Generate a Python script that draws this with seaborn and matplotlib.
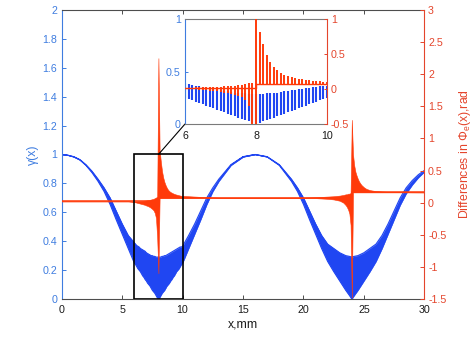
import numpy as np
import pandas as pd
import matplotlib
matplotlib.use("Agg")
import matplotlib.pyplot as plt
import seaborn as sns
from matplotlib.patches import Rectangle, ConnectionPatch
from matplotlib.ticker import FuncFormatter

# ---------------------------------------------------------------------------
# Coherence gamma(x): upper / lower envelope of the fringe band (left axis)
# coarse samples outside the 6-10 mm window
gamma_x = [0, 0.5, 1, 1.5, 2, 2.5, 3, 3.5, 4, 4.5, 5, 5.5,
           10.5, 11, 11.5, 12, 12.5, 13, 14, 15, 16, 17, 18, 19, 19.5, 20,
           20.5, 21, 21.5, 22, 22.5, 23, 23.5, 23.8, 24, 24.2, 24.5, 25,
           25.5, 26, 26.5, 27, 27.5, 28, 28.5, 29, 29.5, 30]
gamma_hi = [1.0, 0.995, 0.985, 0.965, 0.93, 0.885, 0.83, 0.77, 0.70, 0.61, 0.52, 0.44,
            0.44, 0.52, 0.61, 0.70, 0.77, 0.83, 0.93, 0.985, 1.0, 0.985, 0.93, 0.83, 0.77, 0.70,
            0.61, 0.52, 0.44, 0.38, 0.35, 0.32, 0.30, 0.295, 0.29, 0.295, 0.30, 0.32,
            0.35, 0.38, 0.44, 0.52, 0.61, 0.70, 0.77, 0.82, 0.86, 0.89]
gamma_lo = [1.0, 0.995, 0.983, 0.962, 0.925, 0.875, 0.815, 0.745, 0.655, 0.55, 0.45, 0.35,
            0.35, 0.45, 0.55, 0.655, 0.745, 0.815, 0.925, 0.983, 1.0, 0.983, 0.925, 0.815, 0.745, 0.655,
            0.55, 0.45, 0.35, 0.26, 0.19, 0.125, 0.06, 0.025, 0.0, 0.025, 0.06, 0.125,
            0.19, 0.26, 0.35, 0.45, 0.55, 0.65, 0.73, 0.79, 0.84, 0.88]

# fringe-resolved samples in the 6-10 mm window (step 0.1 mm)
zoom_x = np.linspace(6.0, 10.0, 41)
gamma_hi_zoom = [0.39, 0.38, 0.37, 0.365, 0.36, 0.35, 0.345, 0.34, 0.335, 0.33,
                 0.32, 0.315, 0.31, 0.305, 0.30, 0.30, 0.295, 0.295, 0.29, 0.29,
                 0.29,
                 0.29, 0.29, 0.295, 0.295, 0.30, 0.30, 0.305, 0.31, 0.315, 0.32,
                 0.325, 0.33, 0.335, 0.34, 0.345, 0.35, 0.355, 0.36, 0.36, 0.365]
gamma_lo_zoom = [0.25, 0.24, 0.225, 0.21, 0.20, 0.19, 0.175, 0.16, 0.15, 0.135,
                 0.125, 0.11, 0.10, 0.09, 0.075, 0.06, 0.05, 0.04, 0.025, 0.01,
                 0.0,
                 0.01, 0.025, 0.04, 0.05, 0.06, 0.075, 0.09, 0.10, 0.11, 0.125,
                 0.135, 0.15, 0.16, 0.175, 0.19, 0.20, 0.21, 0.225, 0.24, 0.25]

# ---------------------------------------------------------------------------
# Phase difference (right axis, rad)
phase_steps = [0, 8, 24, 30]            # baseline changes at the singularities
phase_offsets = [0.02, 0.075, 0.16]     # baseline level on each segment

phase_x = [0, 5.5,
           10.5, 11, 12, 13, 20, 21, 22, 22.5, 23, 23.3, 23.5, 23.6, 23.7, 23.8, 23.9,
           24.0, 24.1, 24.2, 24.3, 24.4, 24.5, 24.6, 24.7, 24.8, 25.0, 25.2, 25.5, 26,
           27, 28, 30]
phase_hi = [0.02, 0.02,
            0.10, 0.095, 0.085, 0.08, 0.08, 0.085, 0.095, 0.10, 0.11, 0.12, 0.13, 0.13,
            0.14, 0.14, 0.15,
            1.29, 0.75, 0.58, 0.48, 0.42, 0.37, 0.33, 0.30, 0.275, 0.24, 0.215, 0.195, 0.18,
            0.168, 0.163, 0.16]
phase_lo = [0.02, 0.02,
            0.075, 0.075, 0.075, 0.075, 0.075, 0.07, 0.06, 0.05, 0.03, 0.0, -0.04, -0.07,
            -0.11, -0.17, -0.35,
            -1.48, 0.16, 0.16, 0.16, 0.16, 0.16, 0.16, 0.16, 0.16, 0.16, 0.16, 0.16, 0.16,
            0.16, 0.16, 0.16]

phase_hi_zoom = [0.02, 0.02, 0.02, 0.022, 0.022, 0.025, 0.025, 0.028, 0.03, 0.032,
                 0.035, 0.038, 0.04, 0.045, 0.05, 0.055, 0.06, 0.07, 0.08, 0.09,
                 2.25,
                 0.82, 0.64, 0.49, 0.39, 0.32, 0.27, 0.23, 0.20, 0.18, 0.165,
                 0.155, 0.145, 0.137, 0.13, 0.125, 0.12, 0.115, 0.11, 0.107, 0.105]
phase_lo_zoom = [0.01, 0.005, 0.0, -0.005, -0.01, -0.015, -0.02, -0.025, -0.03, -0.035,
                 -0.045, -0.05, -0.06, -0.07, -0.085, -0.10, -0.12, -0.16, -0.24, -0.55,
                 -1.1,
                 0.075, 0.075, 0.075, 0.075, 0.075, 0.075, 0.075, 0.075, 0.075, 0.075,
                 0.075, 0.075, 0.075, 0.075, 0.075, 0.075, 0.075, 0.075, 0.075, 0.075]

x_ticks = [0, 5, 10, 15, 20, 25, 30]
gamma_ticks = [0, 0.2, 0.4, 0.6, 0.8, 1.0, 1.2, 1.4, 1.6, 1.8, 2.0]
phase_ticks = [-1.5, -1, -0.5, 0, 0.5, 1, 1.5, 2, 2.5, 3]
zoom_x_ticks = [6, 8, 10]
zoom_gamma_ticks = [0, 0.5, 1]
zoom_phase_ticks = [-0.5, 0, 0.5, 1]

# ---------------------------------------------------------------------------
sns.set_theme(style="white")
plt.rcParams["font.family"] = ["Liberation Sans", "DejaVu Sans"]
plt.rcParams["mathtext.fontset"] = "custom"
plt.rcParams["mathtext.rm"] = "Liberation Sans"
plt.rcParams["mathtext.it"] = "Liberation Sans:italic"
plt.rcParams["mathtext.bf"] = "Liberation Sans:bold"

BLUE = "#2046f2"
RED = "#ff3a0a"
AX_BLUE = "#3f7de0"
AX_RED = "#e4452c"
FRAME = "#4d4d4d"
TEXT = "#1a1a1a"
TICK_FS = 7.7
LABEL_FS = 8.8

fmt = FuncFormatter(lambda v, p: f"{round(v, 6) + 0.0:g}")


def merge(xa, ya, xb, yb):
    x = np.concatenate([np.asarray(xa, float), np.asarray(xb, float)])
    y = np.concatenate([np.asarray(ya, float), np.asarray(yb, float)])
    order = np.argsort(x, kind="stable")
    return x[order], y[order]


gx, ghi = merge(gamma_x, gamma_hi, zoom_x, gamma_hi_zoom)
_, glo = merge(gamma_x, gamma_lo, zoom_x, gamma_lo_zoom)
px, phi = merge(phase_x, phase_hi, zoom_x, phase_hi_zoom)
_, plo = merge(phase_x, phase_lo, zoom_x, phase_lo_zoom)

base_x = []
base_y = []
for i, off in enumerate(phase_offsets):
    base_x += [phase_steps[i], phase_steps[i + 1]]
    base_y += [off, off]

fig = plt.figure(figsize=(4.74, 3.38), dpi=100)
ax = fig.add_axes([0.1302, 0.1154, 0.7650, 0.8550])
axr = ax.twinx()

# --- main panel: gamma band -------------------------------------------------
ax.fill_between(gx, glo, ghi, color=BLUE, lw=0.3, edgecolor=BLUE)
gdf = pd.DataFrame({"x": np.concatenate([gx, gx[::-1]]),
                    "y": np.concatenate([ghi, glo[::-1]])})
sns.lineplot(data=gdf, x="x", y="y", ax=ax, color=BLUE, lw=0.8,
             sort=False, estimator=None, legend=False)

# --- main panel: phase difference --------------------------------------------
axr.fill_between(px, plo, phi, color=RED, lw=0.4, edgecolor=RED)
bdf = pd.DataFrame({"x": base_x, "y": base_y})
sns.lineplot(data=bdf, x="x", y="y", ax=axr, color=RED, lw=1.1,
             sort=False, estimator=None, legend=False)

ax.set_xlim(0, 30)
ax.set_ylim(0, 2)
axr.set_ylim(-1.5, 3)
ax.set_xticks(x_ticks)
ax.set_yticks(gamma_ticks)
axr.set_yticks(phase_ticks)
for a in (ax, axr):
    a.xaxis.set_major_formatter(fmt)
    a.yaxis.set_major_formatter(fmt)

ax.tick_params(axis="x", which="both", bottom=True, top=True, direction="in",
               length=3, width=0.7, color=FRAME, labelcolor=TEXT,
               labelsize=TICK_FS, pad=4.3)
ax.tick_params(axis="y", left=True, right=False, direction="in", length=3,
               width=0.7, color=AX_BLUE, labelcolor=AX_BLUE,
               labelsize=TICK_FS, pad=3.2)
axr.tick_params(axis="y", right=True, left=False, direction="in", length=3,
                width=0.7, color=AX_RED, labelcolor=AX_RED,
                labelsize=TICK_FS, pad=2.7)

for s in ("top", "bottom"):
    ax.spines[s].set_color(FRAME)
    ax.spines[s].set_linewidth(0.8)
    axr.spines[s].set_visible(False)
ax.spines["left"].set_color(AX_BLUE)
ax.spines["left"].set_linewidth(0.8)
ax.spines["right"].set_visible(False)
axr.spines["left"].set_visible(False)
axr.spines["right"].set_color(AX_RED)
axr.spines["right"].set_linewidth(0.8)

ax.set_xlabel("x,mm", fontsize=LABEL_FS, color=TEXT)
ax.set_ylabel("\u03b3(x)", fontsize=LABEL_FS, color=AX_BLUE)
axr.set_ylabel(r"Differences in $\Phi_{\mathrm{e}}$(x),rad",
               fontsize=LABEL_FS, color=AX_RED)
ax.xaxis.set_label_coords(0.499, -0.067)
ax.yaxis.set_label_coords(-0.063, 0.5)
axr.yaxis.set_label_coords(1.090, 0.5)

# window marker on the main panel
axr.add_patch(Rectangle((6, 0), 4, 1, transform=ax.transData, fill=False,
                        ec="black", lw=1.2, zorder=4))

# --- inset: fringe-resolved view of 6-10 mm ---------------------------------
ins = fig.add_axes([0.3903, 0.6331, 0.2996, 0.3107])
ins.set_zorder(5)
ins.patch.set_facecolor("white")
insr = ins.twinx()
insr.set_zorder(6)
insr.patch.set_visible(False)

ins.vlines(zoom_x, gamma_lo_zoom, gamma_hi_zoom, color=BLUE, lw=1.5)
insr.vlines(zoom_x, phase_lo_zoom, phase_hi_zoom, color=RED, lw=1.4)
sns.lineplot(data=bdf, x="x", y="y", ax=insr, color=RED, lw=1.0,
             sort=False, estimator=None, legend=False)

ins.set_xlim(6, 10)
ins.set_ylim(0, 1)
insr.set_ylim(-0.5, 1)
ins.set_xticks(zoom_x_ticks)
ins.set_yticks(zoom_gamma_ticks)
insr.set_yticks(zoom_phase_ticks)
for a in (ins, insr):
    a.xaxis.set_major_formatter(fmt)
    a.yaxis.set_major_formatter(fmt)
    a.set_xlabel("")
    a.set_ylabel("")

ins.tick_params(axis="x", bottom=True, top=False, direction="in", length=2.5,
                width=0.7, color=FRAME, labelcolor=TEXT, labelsize=TICK_FS, pad=5)
ins.tick_params(axis="y", left=True, right=False, direction="in", length=2.5,
                width=0.7, color=AX_BLUE, labelcolor=AX_BLUE,
                labelsize=TICK_FS, pad=3.0)
insr.tick_params(axis="y", right=True, left=False, direction="in", length=2.5,
                 width=0.7, color=AX_RED, labelcolor=AX_RED,
                 labelsize=TICK_FS, pad=2.7)
for s in ("top", "bottom"):
    ins.spines[s].set_color("#7a7a7a")
    ins.spines[s].set_linewidth(0.8)
    insr.spines[s].set_visible(False)
ins.spines["left"].set_color(AX_BLUE)
ins.spines["left"].set_linewidth(0.8)
ins.spines["right"].set_visible(False)
insr.spines["left"].set_visible(False)
insr.spines["right"].set_color(AX_RED)
insr.spines["right"].set_linewidth(0.8)

# leader line from the window to the inset
fig.add_artist(ConnectionPatch(xyA=(8, 1), coordsA=ax.transData,
                               xyB=(0, 0), coordsB=ins.transAxes,
                               color="black", lw=0.8))

fig.savefig("out.png", dpi=100)
